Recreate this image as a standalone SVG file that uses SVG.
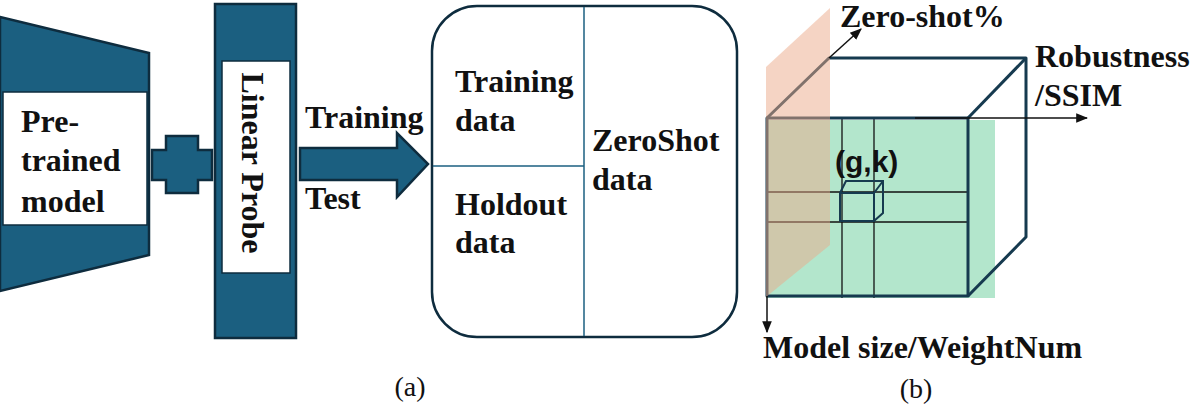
<svg xmlns="http://www.w3.org/2000/svg" width="1200" height="410" viewBox="0 0 1200 410">
<defs>
<style>
.blk{fill:#1b5f80;stroke:#0e2c3e;stroke-width:2.5}
.wht{fill:#ffffff;stroke:#0e2c3e;stroke-width:1.5}
.lbl{font-family:"Times New Roman","Liberation Serif","DejaVu Serif",serif;font-weight:700;font-size:32px;fill:#111}
.cap{font-family:"Times New Roman","Liberation Serif",serif;font-size:28px;fill:#111}
.div{stroke:#1b5f80;stroke-width:1.5;fill:none}
.edge{stroke:#163a4f;stroke-width:3;fill:none;stroke-linejoin:round}
.grid{stroke:#111;stroke-width:1.3;fill:none}
.axis{stroke:#111;stroke-width:1.5;fill:none}
</style>
<marker id="ah2" viewBox="0 0 10 10" refX="9" refY="5" markerWidth="12" markerHeight="12" orient="auto" markerUnits="userSpaceOnUse">
<path d="M0,1 L10,5 L0,9 z" fill="#111"/>
</marker>
</defs>
<rect width="1200" height="410" fill="#ffffff"/>

<g id="pretrained">
<path class="blk" d="M0,17 L149,53 L149,255 L0,291 Z"/>
<rect class="wht" x="3" y="92" width="144" height="133"/>
<text class="lbl" x="21" y="132">Pre-</text>
<text class="lbl" x="21" y="171">trained</text>
<text class="lbl" x="21" y="212">model</text>
</g>

<g id="plus">
<path class="blk" d="M166,136 L198,136 L198,150 L212,150 L212,180 L198,180 L198,193 L166,193 L166,180 L152,180 L152,150 L166,150 Z"/>
</g>

<g id="linearprobe">
<rect class="blk" x="215" y="4" width="81" height="334"/>
<rect class="wht" x="222" y="61" width="68" height="212"/>
<text class="lbl" transform="translate(252,163) rotate(90)" x="0" y="10" text-anchor="middle">Linear Probe</text>
</g>

<g id="connectors">
<path class="blk" d="M300,148 L397,148 L397,133 L428,164 L397,197 L397,180 L300,180 Z" stroke-width="1.5"/>
<text class="lbl" x="305" y="128">Training</text>
<text class="lbl" x="305" y="209">Test</text>
</g>

<g id="data">
<rect x="432" y="6" width="305" height="331" rx="45" ry="45" fill="#ffffff" stroke="#0e2c3e" stroke-width="2.5"/>
<line class="div" x1="584" y1="7" x2="584" y2="336"/>
<line class="div" x1="433" y1="166" x2="584" y2="166"/>
<text class="lbl" x="455" y="92">Training</text>
<text class="lbl" x="455" y="131">data</text>
<text class="lbl" x="455" y="215">Holdout</text>
<text class="lbl" x="455" y="253">data</text>
<text class="lbl" x="592" y="151">ZeroShot</text>
<text class="lbl" x="592" y="190">data</text>
</g>

<g id="caption-a">
<text class="cap" x="410" y="396" text-anchor="middle">(a)</text>
</g>

<g id="cube">
<rect x="766" y="120" width="229" height="178" fill="#b3e6cc"/>
<line class="grid" x1="842" y1="118" x2="842" y2="298"/>
<line class="grid" x1="874" y1="118" x2="874" y2="298"/>
<line class="grid" x1="767" y1="192" x2="968" y2="192"/>
<line class="grid" x1="767" y1="222" x2="968" y2="222"/>
<path class="edge" d="M767,118 L968,118 L968,296 L767,296 Z"/>
<path class="edge" d="M767,118 L829,58 L1026,58 L1026,237 L968,296"/>
<line class="edge" x1="968" y1="118" x2="1026" y2="58"/>
<path d="M766,67 L830,8 L830,245 L766,297 Z" fill="#eba98a" opacity="0.5"/>
<g id="cell">
<rect x="840" y="193" width="34" height="28" fill="none" stroke="#163a4f" stroke-width="2"/>
<path d="M840,193 L846,181 L883,181 L883,213 L874,221 M874,193 L883,181" fill="none" stroke="#163a4f" stroke-width="2"/>
</g>
<text x="835" y="172" font-family="'Liberation Sans',Arial,sans-serif" font-weight="bold" font-size="30" fill="#111">(g,k)</text>
</g>

<g id="axes">
<line class="axis" x1="829" y1="58" x2="861" y2="29" marker-end="url(#ah2)"/>
<line class="axis" x1="915" y1="118" x2="1087" y2="118" marker-end="url(#ah2)"/>
<line class="axis" x1="767" y1="296" x2="767" y2="332" marker-end="url(#ah2)"/>
<text class="lbl" x="840" y="27">Zero-shot%</text>
<text class="lbl" x="1035" y="67">Robustness</text>
<text class="lbl" x="1035" y="106">/SSIM</text>
<text class="lbl" x="763" y="358">Model size/WeightNum</text>
</g>

<g id="caption-b">
<text class="cap" x="916" y="398" text-anchor="middle">(b)</text>
</g>
</svg>
